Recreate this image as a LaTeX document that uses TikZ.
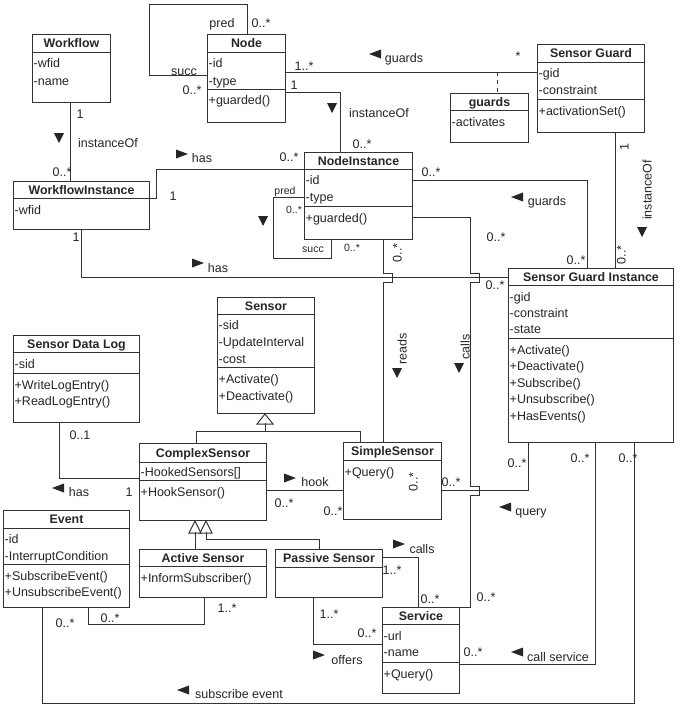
\documentclass[tikz,border=0pt]{standalone}
\usepackage{fontspec}
\setmainfont{Liberation Sans}
\usetikzlibrary{calc}
\tikzset{
 ln/.style={draw=black!80, line width=1pt},
 box/.style={draw=black!80, line width=1pt, fill=white, inner sep=0pt, rectangle},
 ttl/.style={font=\fontsize{12.4}{14}\selectfont\bfseries, text=black!85, inner sep=0pt, text height=8.9pt, text depth=0pt},
 itm/.style={font=\fontsize{12.5}{14}\selectfont, text=black!85, inner sep=0pt, anchor=west, text height=9pt, text depth=0pt},
 lbl/.style={font=\fontsize{12.5}{14}\selectfont, text=black!85, inner sep=0pt, text height=9pt, text depth=0pt},
 sml/.style={font=\fontsize{10.5}{12}\selectfont, text=black!85, inner sep=0pt, text height=7.5pt, text depth=0pt},
 gen/.style={draw=black!80, line width=1pt, fill=white},
}
\newcommand\cls[8]{%
 \node[box, anchor=north west, minimum width=#4pt, minimum height=#5pt] (#1) at (#2,#3) {};
 \node[ttl] (#1-t) at (#1.north |- 0,#7) {#6};
 \draw[ln] (#1.west |- 0,#8) -- (#1.east |- 0,#8);}
\newcommand\dv[2]{\draw[ln] (#1.west |- 0,#2) -- (#1.east |- 0,#2);}
\newcommand\mem[4]{\node[itm] (#1) at ($(#2.west |- 0,#3)+(1.5,0)$) {#4};}
\newcommand\triR[2]{\fill[black!85] (#1,#2) ++(-6,-4.5) -- ++(12,4.5) -- ++(-12,4.5) -- cycle;}
\newcommand\triL[2]{\fill[black!85] (#1,#2) ++(6,-4.5) -- ++(-12,4.5) -- ++(12,4.5) -- cycle;}
\newcommand\triD[2]{\fill[black!85] (#1,#2) ++(-5,-5) -- ++(10,0) -- ++(-5,10) -- cycle;}
\begin{document}
\begin{tikzpicture}[x=1pt, y=-1pt]
\fill[white] (0,0) rectangle (680,726);
\useasboundingbox (0,0) rectangle (680,726);

% ---------- classes ----------
\cls{wf}{32}{34}{78}{68}{Workflow}{43}{52}
\mem{wf1}{wf}{63}{-wfid}
\mem{wf2}{wf}{81}{-name}

\cls{node}{207}{34}{78}{88}{Node}{43}{52}
\mem{node1}{node}{63}{-id}
\mem{node2}{node}{81}{-type}
\dv{node}{89}
\mem{node3}{node}{100}{+guarded()}

\cls{sg}{537}{44}{107}{88}{Sensor Guard}{53}{62}
\mem{sg1}{sg}{73}{-gid}
\mem{sg2}{sg}{90}{-constraint}
\dv{sg}{99}
\mem{sg3}{sg}{111}{+activationSet()}

\cls{gd}{450}{93}{78}{49}{guards}{102}{110}
\mem{gd1}{gd}{122}{-activates}

\cls{wi}{13}{181}{136}{48}{WorkflowInstance}{190}{198}
\mem{wi1}{wi}{210}{-wfid}

\cls{ni}{304}{152}{108}{87}{NodeInstance}{161}{169}
\mem{ni1}{ni}{180}{-id}
\mem{ni2}{ni}{197}{-type}
\dv{ni}{206}
\mem{ni3}{ni}{218}{+guarded()}

\cls{sgi}{508}{268}{165}{174}{Sensor Guard Instance}{277}{285}
\mem{sgi1}{sgi}{297}{-gid}
\mem{sgi2}{sgi}{313}{-constraint}
\mem{sgi3}{sgi}{329}{-state}
\dv{sgi}{338}
\mem{sgi4}{sgi}{350}{+Activate()}
\mem{sgi5}{sgi}{366}{+Deactivate()}
\mem{sgi6}{sgi}{383}{+Subscribe()}
\mem{sgi7}{sgi}{399}{+Unsubscribe()}
\mem{sgi8}{sgi}{416}{+HasEvents()}

\cls{sdl}{13}{335}{126}{87}{Sensor Data Log}{344}{352}
\mem{sdl1}{sdl}{364}{-sid}
\dv{sdl}{373}
\mem{sdl2}{sdl}{385}{+WriteLogEntry()}
\mem{sdl3}{sdl}{401}{+ReadLogEntry()}

\cls{sen}{217}{297}{97}{116}{Sensor}{306}{314}
\mem{sen1}{sen}{325}{-sid}
\mem{sen2}{sen}{342}{-UpdateInterval}
\mem{sen3}{sen}{359}{-cost}
\dv{sen}{367}
\mem{sen4}{sen}{379}{+Activate()}
\mem{sen5}{sen}{396}{+Deactivate()}

\cls{cs}{139}{443}{127}{77}{ComplexSensor}{453}{462}
\mem{cs1}{cs}{472}{-HookedSensors[]}
\dv{cs}{480}
\mem{cs2}{cs}{492}{+HookSensor()}

\cls{ss}{343}{442}{98}{77}{SimpleSensor}{451}{460}
\mem{ss1}{ss}{472}{+Query()}

\cls{ev}{3}{510}{126}{97}{Event}{519}{528}
\mem{ev1}{ev}{539}{-id}
\mem{ev2}{ev}{556}{-InterruptCondition}
\dv{ev}{564}
\mem{ev3}{ev}{576}{+SubscribeEvent()}
\mem{ev4}{ev}{592}{+UnsubscribeEvent()}

\cls{as}{139}{549}{127}{48}{Active Sensor}{558}{566}
\mem{as1}{as}{578}{+InformSubscriber()}

\cls{ps}{275}{549}{107}{48}{Passive Sensor}{558}{567}

\cls{svc}{382}{607}{77}{86}{Service}{616}{624}
\mem{svc1}{svc}{636}{-url}
\mem{svc2}{svc}{652}{-name}
\dv{svc}{662}
\mem{svc3}{svc}{674}{+Query()}

% ---------- connectors ----------
% Node self loop
\draw[ln] (node.north -| 247,0) -- (247,4) -- (149,4) -- (149,75) -- (node.west |- 0,75);
\node[lbl] (l1) at (222,23) {pred};
\node[lbl] (l2) at (261,23) {0..*};
\node[lbl] (l3) at (184,71) {succ};
\node[lbl] (l4) at (192,90) {0..*};

% Node - Sensor Guard : guards
\draw[ln] (node.east |- 0,72) -- (sg.west |- 0,72);
\node[lbl] (l5) at (304,66) {1..*};
\node[lbl] (l6) at (518,56) {*};
\triL{375}{54}
\node[lbl] (l7) at (404,58) {guards};
\coordinate (gj) at (497,72);
\draw[ln, dash pattern=on 4pt off 4pt] (gj) -- (gd.north -| gj);

% Node - NodeInstance : instanceOf
\draw[ln] (node.east |- 0,92) -- (340,92) -- (ni.north -| 340,0);
\node[lbl] (l8) at (294,85) {1};
\triD{332}{108}
\node[lbl] (l9) at (379,113) {instanceOf};
\node[lbl] (l10) at (362,144) {0..*};

% Workflow - WorkflowInstance : instanceOf
\draw[ln] (wf.south -| 70,0) -- (wi.north -| 70,0);
\node[lbl] (l11) at (80,114) {1};
\triD{59}{138}
\node[lbl] (l12) at (108,143) {instanceOf};
\node[lbl] (l13) at (62,172) {0..*};

% WorkflowInstance - NodeInstance : has
\draw[ln] (wi.east |- 0,198) -- (156,198) -- (156,169) -- (ni.west |- 0,169);
\node[lbl] (l14) at (173,196) {1};
\triR{182}{154}
\node[lbl] (l15) at (202,158) {has};
\node[lbl] (l16) at (289,157) {0..*};

% WorkflowInstance - SGI : has
\draw[ln] (wi.south -| 81,0) -- (81,277) -- (sgi.west |- 0,277);
\node[lbl] (l17) at (76,237) {1};
\triR{198}{263}
\node[lbl] (l18) at (218,268) {has};
\node[lbl] (l19) at (495,285) {0..*};

% NodeInstance - SGI : guards
\draw[ln] (ni.east |- 0,180) -- (587,180) -- (sgi.north -| 587,0);
\node[lbl] (l20) at (431,172) {0..*};
\triL{517}{197}
\node[lbl] (l21) at (547,201) {guards};
\node[lbl] (l22) at (576,260) {0..*};

% Sensor Guard - SGI : instanceOf
\draw[ln] (sg.south -| 615,0) -- (sgi.north -| 615,0);
\node[lbl, rotate=90] (l23) at (624,147) {1};
\node[lbl, rotate=90] (l24) at (647,190) {instanceOf};
\triD{642}{232}
\node[lbl, rotate=90] (l25) at (621,255) {0..*};

% NodeInstance - SimpleSensor : reads
\draw[ln] (ni.south -| 383,0) -- (383,273) -- (392,273) -- (392,282) -- (383,282) -- (ss.north -| 383,0);
\node[lbl, rotate=90] (l26) at (397,253) {0..*};
\node[lbl, rotate=90] (l27) at (402,349) {reads};
\triD{397}{373}
\node[lbl, rotate=90] (l28) at (413,482) {0..*};

% NodeInstance - Service : calls
\draw[ln] (ni.east |- 0,217) -- (470,217) -- (470,273) -- (479,273) -- (479,282) -- (470,282)
  -- (470,486) -- (479,486) -- (479,495) -- (470,495) -- (470,607) -- (svc.north east);
\node[lbl] (l29) at (496,237) {0..*};
\node[lbl, rotate=90] (l30) at (465,347) {calls};
\triD{459}{368}
\node[lbl] (l31) at (486,597) {0..*};

% SimpleSensor - SGI : query
\draw[ln] (ss.east |- 0,490) -- (528,490) -- (sgi.south -| 528,0);
\node[lbl] (l32) at (451,482) {0..*};
\node[lbl] (l33) at (517,463) {0..*};
\triL{505}{507}
\node[lbl] (l34) at (531,511) {query};

% SGI - Service : call service
\draw[ln] (sgi.south -| 595,0) -- (595,664) -- (svc.east |- 0,664);
\node[lbl] (l35) at (580,458) {0..*};
\node[lbl] (l36) at (473,652) {0..*};
\triL{517}{652}
\node[lbl] (l37) at (558,657) {call service};

% SGI - Event : subscribe event
\draw[ln] (sgi.south -| 634,0) -- (634,703) -- (42,703) -- (ev.south -| 42,0);
\node[lbl] (l38) at (628,458) {0..*};
\triL{183}{690}
\node[lbl] (l39) at (239,694) {subscribe event};
\node[lbl] (l40) at (65,623) {0..*};

% Event - Active Sensor
\draw[ln] (ev.south -| 88,0) -- (88,624) -- (204,624) -- (as.south -| 204,0);
\node[lbl] (l41) at (110,618) {0..*};
\node[lbl] (l42) at (227,608) {1..*};

% Sensor Data Log - ComplexSensor : has
\draw[ln] (sdl.south -| 59,0) -- (59,478) -- (cs.west |- 0,478);
\node[lbl] (l43) at (80,435) {0..1};
\triL{58}{488}
\node[lbl] (l44) at (79,492) {has};
\node[lbl] (l45) at (129,492) {1};

% ComplexSensor - SimpleSensor : hook
\draw[ln] (cs.east |- 0,490) -- (ss.west |- 0,490);
\triR{290}{478}
\node[lbl] (l46) at (315,482) {hook};
\node[lbl] (l47) at (284,503) {0..*};
\node[lbl] (l48) at (333,511) {0..*};

% generalization to Sensor
\draw[gen] (sen.south -| 265,0) -- ++(8,10) -- ++(-16,0) -- cycle;
\draw[ln] (265,423) -- (265,431);
\draw[ln] (cs.north -| 196,0) -- (196,431) -- (360,431) -- (ss.north -| 360,0);

% generalization to ComplexSensor
\draw[gen] (cs.south -| 195,0) -- ++(6,12) -- ++(-12,0) -- cycle;
\draw[gen] (cs.south -| 206,0) -- ++(6,12) -- ++(-12,0) -- cycle;
\draw[ln] (195,532) -- (as.north -| 195,0);
\draw[ln] (206,532) -- (206,539) -- (319,539) -- (ps.north -| 319,0);

% Passive Sensor - Service : calls
\draw[ln] (ps.east |- 0,557) -- (418,557) -- (svc.north -| 418,0);
\triR{399}{544}
\node[lbl] (l49) at (422,549) {calls};
\node[lbl] (l50) at (392,570) {1..*};
\node[lbl] (l51) at (430,599) {0..*};

% Passive Sensor - Service : offers
\draw[ln] (ps.south -| 313,0) -- (313,644) -- (svc.west |- 0,644);
\node[lbl] (l52) at (329,614) {1..*};
\node[lbl] (l53) at (367,633) {0..*};
\triR{319}{655}
\node[lbl] (l54) at (347,660) {offers};

% NodeInstance self loop
\draw[ln] (ni.west |- 0,197) -- (273,197) -- (273,258) -- (331,258) -- (ni.south -| 331,0);
\node[sml] (l55) at (285,191) {pred};
\node[sml] (l56) at (294,210) {0..*};
\node[sml] (l57) at (313,249) {succ};
\node[sml] (l58) at (352,248) {0..*};
\triD{263}{221}
\end{tikzpicture}
\end{document}
